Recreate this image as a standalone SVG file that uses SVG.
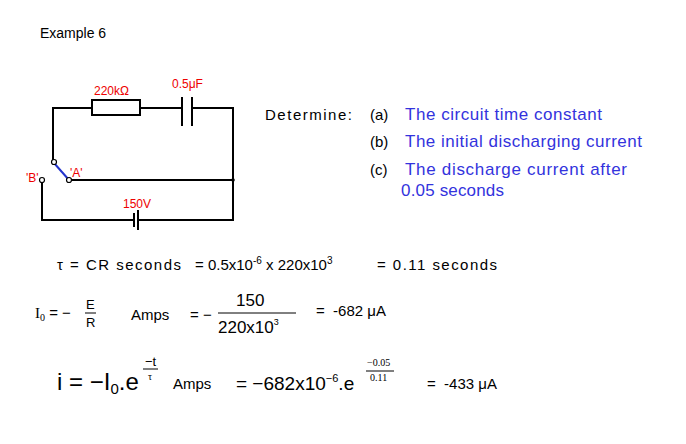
<svg xmlns="http://www.w3.org/2000/svg" width="686" height="444" viewBox="0 0 686 444">
<style>
.w{stroke:#000;stroke-width:2;fill:none}
.r{fill:#e00;font-family:"Liberation Sans",sans-serif;font-size:12px}
.t{font-family:"Liberation Sans",sans-serif;font-size:15px;fill:#000;white-space:pre}
.b{font-family:"Liberation Sans",sans-serif;font-size:17px;fill:#3333dd}
.term{fill:#fff;stroke:#000;stroke-width:1.2}
</style>
<rect width="686" height="444" fill="#fff"/>
<text font-family="Liberation Sans" font-size="14" x="40" y="38">Example 6</text>
<g id="wires">
<path class="w" d="M53,161 V108 H92 M140,108 H182 M192,108 H233 V220 H137 M133,220 H42 V180 M72,180 H233"/>
<line x1="54" y1="163" x2="69" y2="180" stroke="#2233cc" stroke-width="2"/>
<circle cx="233" cy="180" r="1.8" fill="#000"/>
</g>
<g id="resistor"><rect x="92" y="100" width="48" height="15" fill="#fff" stroke="#000" stroke-width="2"/><text class="r" x="94" y="95">220kΩ</text></g>
<g id="capacitor"><line class="w" x1="182" y1="97" x2="182" y2="126" stroke-width="2.5"/><line class="w" x1="192" y1="97" x2="192" y2="126" stroke-width="2.5"/><text class="r" x="172" y="88">0.5μF</text></g>
<g id="battery"><line class="w" x1="134" y1="213" x2="134" y2="227"/><line class="w" x1="138" y1="210" x2="138" y2="230" stroke-width="2.5"/><text class="r" x="123" y="208">150V</text></g>
<g id="switch">
<circle class="term" cx="54" cy="162" r="2.5"/><circle class="term" cx="69" cy="180" r="2.5"/><circle class="term" cx="42" cy="180" r="2.5"/>
<text class="r" x="70" y="177">'A'</text><text class="r" x="26" y="182">'B'</text>
</g>
<g id="question">
<text class="t" x="265" y="120" textLength="87">Determine:</text>
<text class="t" x="370" y="120">(a)</text><text class="b" x="405" y="120" textLength="197">The circuit time constant</text>
<text class="t" x="370" y="147">(b)</text><text class="b" x="405" y="147" textLength="237">The initial discharging current</text>
<text class="t" x="370" y="175">(c)</text><text class="b" x="405" y="175" textLength="222">The discharge current after</text>
<text class="b" x="401" y="196" textLength="103">0.05 seconds</text>
</g>
<g id="eq1">
<text class="t" x="57" y="270" textLength="124">τ = CR seconds</text>
<text class="t" x="195" y="270" font-size="17">= 0.5x10<tspan font-size="10" dy="-6">-6</tspan><tspan dy="6"> x 220x10</tspan><tspan font-size="10" dy="-6">3</tspan></text>
<text class="t" x="377" y="270" textLength="120">= 0.11 seconds</text>
</g>
<g id="eq2">
<text font-family="Liberation Serif" font-size="15" x="35" y="318">I<tspan font-size="10" dy="3">0</tspan><tspan dy="-3" font-family="Liberation Sans"> = −</tspan></text>
<text font-family="Liberation Sans" font-size="13" x="86" y="309">E</text><line x1="85" y1="313" x2="96" y2="313" stroke="#000"/><text font-family="Liberation Sans" font-size="13" x="86" y="327">R</text>
<text class="t" x="131" y="320">Amps</text>
<text class="t" x="190" y="320">= −</text>
<text font-family="Liberation Sans" font-size="17" x="236" y="306">150</text>
<line x1="218" y1="313" x2="296" y2="313" stroke="#000"/>
<text font-family="Liberation Sans" font-size="17" x="218" y="333">220x10<tspan font-size="9" dy="-8">3</tspan></text>
<text class="t" x="316" y="316">=  -682 μA</text>
</g>
<g id="eq3">
<text font-family="Liberation Sans" font-size="24" x="57" y="390">i = −I<tspan font-size="15" dy="4">0</tspan><tspan dy="-4">.e</tspan></text>
<text font-family="Liberation Sans" font-size="13" x="145" y="366">−t</text><line x1="143" y1="369" x2="158" y2="369" stroke="#000"/><text font-family="Liberation Serif" font-size="10" x="148" y="380">τ</text>
<text class="t" x="173" y="389">Amps</text>
<text font-family="Liberation Sans" font-size="19" x="236" y="390">= −682x10<tspan font-size="11" dy="-8">−6</tspan><tspan dy="8">.e</tspan></text>
<text font-family="Liberation Serif" font-size="10" x="367" y="366">−0.05</text><line x1="366" y1="371" x2="394" y2="371" stroke="#000"/><text font-family="Liberation Serif" font-size="10" x="370" y="381">0.11</text>
<text class="t" x="427" y="389">=  -433 μA</text>
</g>
</svg>
